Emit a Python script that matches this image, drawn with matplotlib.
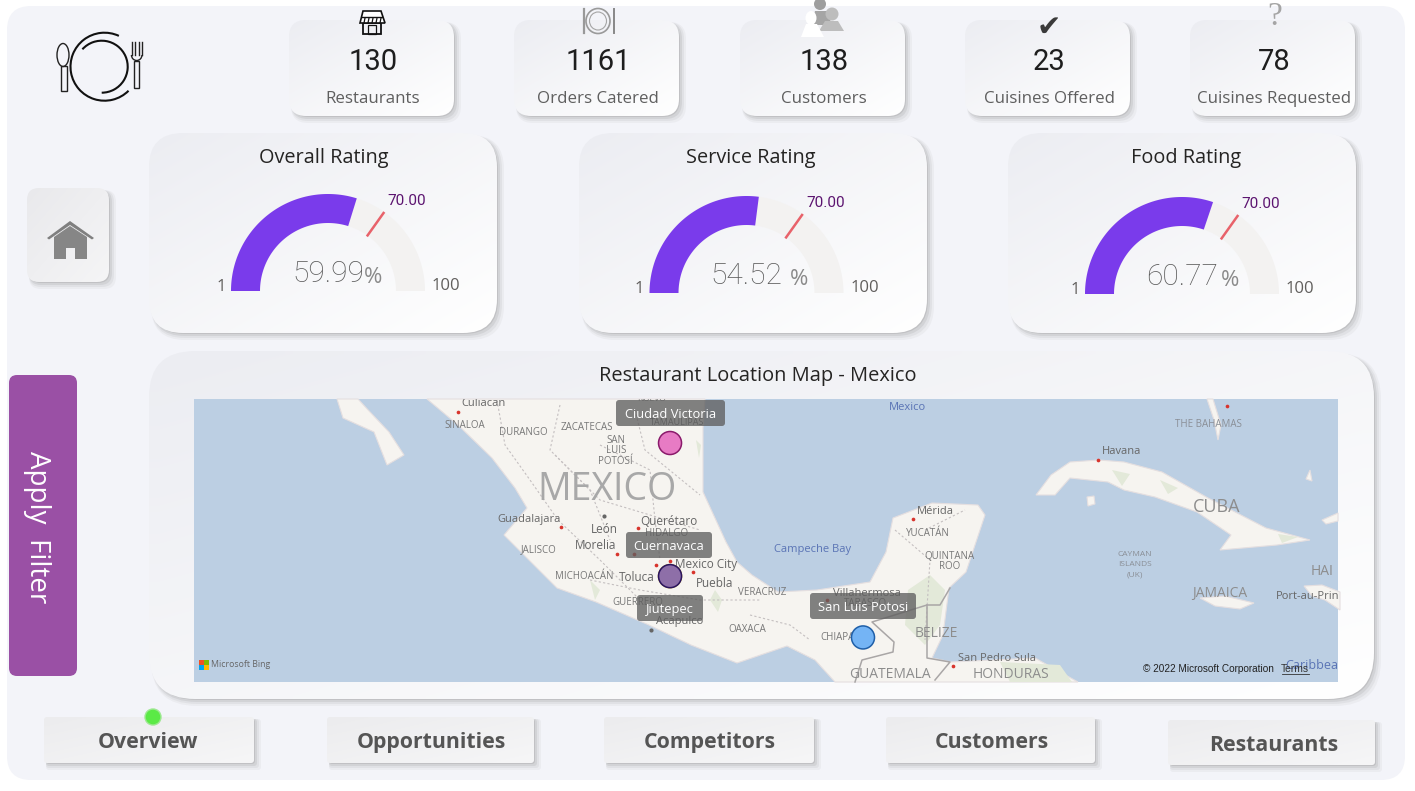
import numpy as np
import matplotlib
matplotlib.use("Agg")
import matplotlib.pyplot as plt
from matplotlib.patches import FancyBboxPatch, Polygon, Circle, Arc, Rectangle, Ellipse

# values
kpi_values = ["130", "1161", "138", "23", "78"]
kpi_labels = ["Restaurants", "Orders Catered", "Customers", "Cuisines Offered", "Cuisines Requested"]
gauge_titles = ["Overall Rating", "Service Rating", "Food Rating"]
gauge_values = [59.99, 54.52, 60.77]
gauge_targets = [70.0, 70.0, 70.0]
gauge_min = 1
gauge_max = 100
nav_labels = ["Overview", "Opportunities", "Competitors", "Customers", "Restaurants"]

city_names = ["Ciudad Victoria", "Cuernavaca", "Jiutepec", "San Luis Potosi"]
city_lon = [-99.1, -99.1, -99.1, -91.56]
city_lat = [23.7, 18.77, 18.77, 16.5]
city_colors = ["#E77BC4", "#C9A227", "#8E6FA8", "#74B4F5"]
city_edges = ["#8A1A6B", "#C9A227", "#2A1560", "#1F5FA8"]

FONT = "Open Sans"
NUM_FONT = "Roboto"

fig = plt.figure(figsize=(14.15, 7.91), dpi=100)
fig.patch.set_facecolor("white")
ax = fig.add_axes([0, 0, 1, 1])
ax.set_xlim(0, 1415)
ax.set_ylim(791, 0)
ax.axis("off")

grad = np.linspace(0, 1, 64)
grad = (grad[None, :] + grad[:, None]) / 2


def rbox(x0, y0, x1, y1, r, **kw):
    return FancyBboxPatch((x0 + r, y0 + r), x1 - x0 - 2 * r, y1 - y0 - 2 * r,
                          boxstyle=f"round,pad={r},rounding_size={r}", mutation_aspect=1, **kw)


def card(x0, y0, x1, y1, r, c0="#ECEDF2", c1="#FFFFFF", z=2):
    # soft shadow, then the gradient face
    for i, a in zip([7, 5, 3, 1], [0.05, 0.07, 0.1, 0.14]):
        ax.add_patch(rbox(x0 + 2, y0 + 2, x1 + i, y1 + i, r, fc="#5A5A5A", ec="none", alpha=a, zorder=z))
    rgb0 = np.array(matplotlib.colors.to_rgb(c0))
    rgb1 = np.array(matplotlib.colors.to_rgb(c1))
    img = rgb0[None, None, :] + (rgb1 - rgb0)[None, None, :] * grad[:, :, None]
    im = ax.imshow(img, extent=(x0, x1, y1, y0), aspect="auto", zorder=z + 0.1, interpolation="bilinear")
    face = rbox(x0, y0, x1, y1, r, fc="none", ec="none", zorder=z + 0.1)
    ax.add_patch(face)
    im.set_clip_path(face)


def label(x, y, s, size, color="#333333", family=FONT, z=6, **kw):
    kw.setdefault("ha", "center")
    kw.setdefault("va", "center")
    # centre sits a bit high with these fonts
    return ax.text(x, y + size * 0.13, s, fontsize=size, color=color, family=family, zorder=z, **kw)


# page background
ax.add_patch(rbox(7, 6, 1405, 780, 24, fc="#F3F4F9", ec="none", zorder=1))

# KPI cards
kpi_x0 = [289, 514, 740, 965, 1190]
for x0, val, lab in zip(kpi_x0, kpi_values, kpi_labels):
    card(x0, 20, x0 + 165, 116, 17)
    label(x0 + 84, 59, val, 21, color="#1E1E1E", family=NUM_FONT)
    label(x0 + 84, 97, lab, 12.2, color="#5F5F5F")

# logo: plate, spoon, fork
lw_logo = 1.5
ax.add_patch(Arc((104.5, 66.7), 68, 68, theta1=45, theta2=295, color="#111111", lw=lw_logo, zorder=6))
ax.add_patch(Arc((101.7, 66.7), 52, 52, theta1=222, theta2=450, color="#111111", lw=lw_logo, zorder=6))
ax.add_patch(Ellipse((63, 55), 12, 23, fc="none", ec="#222222", lw=1, zorder=6))
ax.add_patch(Rectangle((61, 66), 5.5, 25, fc="none", ec="#222222", lw=1, zorder=6))
for fx in (131.5, 135, 138.5, 142):
    ax.plot([fx, fx], [42, 55], color="#222222", lw=1, zorder=6)
ax.add_patch(Arc((136.7, 55), 10.5, 11, theta1=0, theta2=180, color="#222222", lw=1, zorder=6))
ax.add_patch(Rectangle((133.5, 61), 5.5, 27, fc="none", ec="#222222", lw=1, zorder=6))

# KPI icons
ax.add_patch(Rectangle((363, 23), 18, 11, fc="none", ec="#111111", lw=1.3, zorder=6))
ax.add_patch(Rectangle((368, 25), 8, 9, fc="none", ec="#111111", lw=0.9, zorder=6))
ax.add_patch(Polygon([[363, 11], [381, 11], [385, 23], [360, 23]], fc="white", ec="#111111", lw=1.2, zorder=6))
ax.plot([362, 382], [17, 17], color="#111111", lw=1, zorder=6)
for sx in (365, 369, 373, 377, 381):
    ax.plot([sx, sx - 1], [18, 23], color="#111111", lw=0.9, zorder=6)
ax.add_patch(Ellipse((598, 21), 24, 25, fc="none", ec="#9A9A9A", lw=1.2, zorder=6))
ax.add_patch(Ellipse((598, 21), 17, 18, fc="none", ec="#A5A5A5", lw=0.8, zorder=6))
ax.plot([584, 584], [9, 33], color="#999999", lw=1.6, zorder=6)
ax.plot([614, 614], [9, 33], color="#888888", lw=1.4, zorder=6)
ax.add_patch(Circle((820, 4), 6, fc="#9E9E9E", ec="none", zorder=6))
ax.add_patch(Polygon([[811, 25], [815, 11], [827, 11], [832, 25]], fc="#A5A5A5", ec="none", zorder=6))
ax.add_patch(Circle((832, 14), 6.5, fc="#BDBDBD", ec="none", zorder=6))
ax.add_patch(Polygon([[819, 31], [825, 21], [838, 21], [844, 31]], fc="#BDBDBD", ec="none", zorder=6))
ax.add_patch(Ellipse((811, 18), 11, 14, fc="white", ec="none", zorder=6))
ax.add_patch(Polygon([[801, 37], [806, 24], [817, 24], [824, 37]], fc="white", ec="none", zorder=6))
label(1049, 25, "\u2714", 21, color="#3A3A3A", family="DejaVu Sans")
label(1275, 14, "?", 24, color="#A5A5A5", family="Liberation Serif")

# gauges
gauge_card_x0 = [149, 579, 1008]
gauge_cx = [328, 746.5, 1182]
gauge_cy = [291, 293, 294]
title_x = [324, 751, 1186]
pct_dx = [45, 52.5, 48]
R_out, R_in = 97, 68


def frac(v):
    return (v - gauge_min) / (gauge_max - gauge_min)


def ring(cx, cy, f0, f1, color):
    t = np.pi * (1 - np.linspace(f0, f1, 100))
    outer = np.c_[cx + R_out * np.cos(t), cy - R_out * np.sin(t)]
    inner = np.c_[cx + R_in * np.cos(t), cy - R_in * np.sin(t)][::-1]
    ax.add_patch(Polygon(np.r_[outer, inner], fc=color, ec="none", zorder=5))


for i in range(3):
    x0, cx, cy = gauge_card_x0[i], gauge_cx[i], gauge_cy[i]
    card(x0, 133, x0 + 348, 333, 34)
    label(title_x[i], 156, gauge_titles[i], 14.3, color="#252423")
    ring(cx, cy, 0, 1, "#F3F2F1")
    ring(cx, cy, 0, frac(gauge_values[i]), "#7A3BEB")
    t = np.pi * (1 - frac(gauge_targets[i]))
    ax.plot([cx + (R_in - 1) * np.cos(t), cx + R_out * np.cos(t)],
            [cy - (R_in - 1) * np.sin(t), cy - R_out * np.sin(t)],
            color="#E8626A", lw=1.8, zorder=6, solid_capstyle="butt")
    label(cx + 79, cy - 91, f"{gauge_targets[i]:.2f}", 11, color="#5C1470", family=NUM_FONT)
    label(cx - 107, cy - 6, str(gauge_min), 12, color="#605E5C")
    label(cx + 118, cy - 7, str(gauge_max), 12, color="#605E5C")
    label(cx, cy - 20, f"{gauge_values[i]:.2f}", 21.5, color="#5A5A5A", family=NUM_FONT, fontweight="light")
    label(cx + pct_dx[i], cy - 16, "%", 16, color="#8A8A8A")

# home button
card(27, 188, 109, 282, 12, c0="#E9E9EC", c1="#F5F5F6")
ax.add_patch(Polygon([[47, 238], [70, 221], [94, 238], [92, 239.5], [70, 225], [49, 239.5]], fc="#7F7F7F", ec="none", zorder=6))
ax.add_patch(Polygon([[54, 237], [70, 226], [87, 237], [87, 259], [75, 259], [75, 248], [66, 248], [66, 259], [54, 259]], fc="#868686", ec="none", zorder=6))

# filter pane
ax.add_patch(rbox(9, 375, 77, 676, 8, fc="#9A50A5", ec="none", zorder=3))
label(37, 525, "Apply  Filter", 20, color="white", rotation=270)

# map card
card(149, 351, 1374, 699, 46)
label(758, 374, "Restaurant Location Map - Mexico", 14.4, color="#252423")

# basemap, traced by eye in page pixels
mx0, mx1, my0, my1 = 194, 1338, 399, 682
ax.add_patch(Rectangle((mx0, my0), mx1 - mx0, my1 - my0, fc="#BCCFE3", ec="none", zorder=3))
land = "#F6F4F0"
mexico = [[427, 399], [458, 425], [492, 458], [515, 488], [527, 508], [504, 535], [527, 558], [557, 588],
          [596, 602], [649, 625], [691, 645], [737, 663], [787, 646], [815, 660], [835, 682], [1078, 682],
          [1035, 658], [951, 662], [932, 658], [943, 635], [949, 588], [966, 572], [985, 515], [978, 505],
          [932, 503], [893, 518], [886, 552], [870, 582], [817, 590], [778, 592], [752, 575], [737, 562],
          [726, 542], [703, 492], [703, 428], [705, 399]]
baja = [[337, 399], [343, 418], [374, 432], [387, 465], [404, 455], [389, 432], [370, 412], [358, 399]]
cuba = [[1036, 495], [1051, 475], [1070, 462], [1099, 460], [1124, 462], [1162, 472], [1208, 498], [1266, 528],
        [1310, 540], [1277, 545], [1220, 550], [1231, 535], [1197, 512], [1155, 497], [1124, 490], [1108, 482],
        [1070, 478], [1055, 495]]
jamaica = [[1200, 598], [1225, 596], [1254, 603], [1240, 609], [1215, 606]]
hispaniola = [[1304, 586], [1322, 585], [1340, 592], [1340, 610], [1325, 600], [1312, 596]]
small_land = [[[1087, 497], [1094, 496], [1095, 504], [1088, 506]],
              [[1207, 399], [1213, 399], [1221, 425], [1218, 440], [1214, 420]],
              [[1322, 520], [1338, 513], [1338, 521], [1326, 524]],
              [[1310, 470], [1306, 479], [1312, 481]]]
for shape in [mexico, baja, cuba, jamaica, hispaniola] + small_land:
    ax.add_patch(Polygon(shape, fc=land, ec="#E5DFE0", lw=0.8, zorder=3.1))

# green patches on land
greens = [[[908, 590], [930, 575], [945, 590], [940, 625], [925, 645], [905, 625]],
          [[1000, 662], [1060, 665], [1072, 682], [1010, 682]],
          [[1112, 470], [1130, 474], [1122, 486]],
          [[1278, 534], [1298, 537], [1282, 543]],
          [[1160, 480], [1178, 488], [1168, 494]],
          [[696, 440], [701, 445], [699, 458]],
          [[715, 590], [722, 600], [718, 612], [710, 600]],
          [[590, 580], [600, 590], [595, 600]]]
for shape in greens:
    ax.add_patch(Polygon(shape, fc="#E3E9D9", ec="none", zorder=3.2))

# state borders
borders = [[[497, 400], [505, 445], [530, 480], [558, 520], [600, 560], [640, 600]],
           [[560, 405], [550, 450], [590, 490], [610, 540]],
           [[600, 445], [650, 470], [655, 520], [660, 560]],
           [[635, 410], [645, 450], [700, 495]],
           [[555, 455], [600, 500], [700, 530]],
           [[590, 580], [640, 590], [700, 600], [760, 600]],
           [[750, 615], [790, 625], [810, 640]],
           [[895, 530], [930, 560], [925, 640]],
           [[925, 530], [965, 510]]]
for b in borders:
    xy = np.array(b)
    ax.plot(xy[:, 0], xy[:, 1], color="#C4BFC0", lw=0.8, ls=(0, (2, 2)), zorder=3.3)
guate = np.array([[855, 682], [862, 660], [893, 652], [894, 642], [872, 622], [927, 605], [927, 658], [950, 662], [935, 680]])
ax.plot(guate[:, 0], guate[:, 1], color="#A9A6A6", lw=1.1, zorder=3.3)
ax.plot([927, 940, 950], [605, 605, 588], color="#A9A6A6", lw=1.1, zorder=3.3)

# basemap labels: text, x, y, size, colour
map_labels = [("Culiacan", 483, 402, 8, "#666666"), ("SINALOA", 465, 425, 7, "#777777"),
              ("DURANGO", 523, 432, 7, "#777777"), ("ZACATECAS", 587, 427, 7, "#777777"),
              ("NUEVO", 652, 399, 6, "#777777"),
              ("SAN", 616, 440, 7, "#777777"), ("LUIS", 616, 450, 7, "#777777"), ("POTOS\u00cd", 615, 461, 7, "#777777"),
              ("TAMAULIPAS", 677, 422, 6.5, "#666666"),
              ("MEXICO", 607, 486, 27, "#A8A8A8"), ("Guadalajara", 529, 518, 8, "#666666"),
              ("Le\u00f3n", 604, 528, 8.5, "#666666"), ("Quer\u00e9taro", 669, 520, 8.5, "#666666"),
              ("HIDALGO", 667, 533, 7, "#777777"), ("Morelia", 596, 544, 8.5, "#666666"),
              ("JALISCO", 539, 549, 7, "#777777"), ("Mexico City", 706, 563, 8.5, "#666666"),
              ("MICHOAC\u00c1N", 584, 576, 7, "#777777"), ("Toluca", 637, 576, 8.5, "#666666"),
              ("Puebla", 715, 582, 8.5, "#666666"), ("VERACRUZ", 762, 592, 7, "#777777"),
              ("GUERRERO", 638, 602, 7, "#777777"), ("Acapulco", 680, 620, 8, "#666666"),
              ("OAXACA", 747, 629, 7, "#777777"),
              ("Mexico", 907, 406, 8, "#5A74B5"), ("Campeche Bay", 813, 548, 8, "#5A74B5"),
              ("THE BAHAMAS", 1208, 424, 7, "#8A8F96"), ("Havana", 1122, 450, 8, "#666666"),
              ("M\u00e9rida", 935, 510, 8, "#666666"), ("YUCAT\u00c1N", 928, 533, 7, "#777777"),
              ("QUINTANA", 949, 556, 7, "#777777"), ("ROO", 950, 566, 7, "#777777"),
              ("CUBA", 1217, 505, 13, "#8D8D8D"), ("CAYMAN", 1135, 554, 6, "#8A8F96"),
              ("ISLANDS", 1135, 564, 6, "#8A8F96"), ("(UK)", 1135, 574, 6, "#8A8F96"),
              ("HAI", 1322, 570, 10, "#8D8D8D"), ("JAMAICA", 1220, 592, 10, "#8D8D8D"),
              ("Port-au-Prince", 1313, 595, 8, "#666666"), ("Villahermosa", 867, 592, 8, "#666666"),
              ("TABASCO", 865, 603, 7, "#777777"), ("CHIAPAS", 840, 637, 7, "#777777"),
              ("BELIZE", 936, 632, 10, "#8D8D8D"), ("San Pedro Sula", 997, 657, 8, "#666666"),
              ("GUATEMALA", 890, 673, 10, "#8D8D8D"), ("HONDURAS", 1011, 673, 10, "#8D8D8D"),
              ("Caribbean", 1316, 664, 9, "#5A74B5")]
map_clip = Rectangle((mx0, my0), mx1 - mx0, my1 - my0, transform=ax.transData)
for txt, x, y, size, color in map_labels:
    t = label(x, y, txt, size, color=color, z=4, clip_on=True)
    t.set_clip_path(map_clip)

red_dots_x = [458, 561, 638, 634, 617, 656, 670, 693, 913, 1098, 1227, 827, 953]
red_dots_y = [412, 527, 528, 554, 554, 565, 561, 572, 519, 460, 406, 600, 666]
ax.scatter(red_dots_x, red_dots_y, s=7, color="#D8342C", zorder=4, linewidths=0)
ax.scatter([604, 651], [516, 630], s=9, color="#666666", zorder=4, linewidths=0)

# bing logo and attribution
for cx_, cy_, c in zip([201, 206, 201, 206], [662, 662, 667, 667], ["#F25022", "#7FBA00", "#00A4EF", "#FFB900"]):
    ax.add_patch(Rectangle((cx_ - 2.5, cy_ - 2.5), 5, 5, fc=c, ec="none", zorder=4))
label(241, 664, "Microsoft Bing", 6.3, color="#666666", z=4)
label(1208, 668, "\u00a9 2022 Microsoft Corporation", 7.2, color="#222222", family="Liberation Sans", z=7)
label(1295, 668, "Terms", 7.4, color="#333333", family="Liberation Sans", z=7)
ax.plot([1282, 1309], [673.5, 673.5], color="#333333", lw=0.6, zorder=7)

# city markers go through a lon/lat axes laid over the map
ax_geo = fig.add_axes([mx0 / 1415, 1 - my1 / 791, (mx1 - mx0) / 1415, (my1 - my0) / 791], facecolor="none")
ax_geo.set_xlim(-117.7, -73.0)
ax_geo.set_ylim(14.85, 25.33)
ax_geo.axis("off")
ax_geo.scatter(city_lon, city_lat, s=275, c=city_colors, edgecolors=city_edges, linewidths=1.1, zorder=5)

# tooltips, drawn on top of the markers' axes
ax_top = fig.add_axes([0, 0, 1, 1], facecolor="none")
ax_top.set_xlim(0, 1415)
ax_top.set_ylim(791, 0)
ax_top.axis("off")
tip_boxes = [(616, 400, 725, 426), (626, 532, 712, 558), (637, 595, 703, 621), (810, 593, 916, 619)]
for name, (x0, y0, x1, y1) in zip(city_names, tip_boxes):
    ax_top.add_patch(rbox(x0, y0, x1, y1, 3, fc="#5F5F5F", ec="none", alpha=0.78, zorder=6))
    ax_top.text((x0 + x1) / 2, (y0 + y1) / 2 + 1.2, name, fontsize=9.3, color="white", family=FONT,
                ha="center", va="center", zorder=7)

# navigation buttons
nav_boxes = [(44, 717, 254, 763), (327, 717, 534, 763), (604, 717, 814, 763), (886, 717, 1095, 763), (1168, 720, 1375, 765)]
nav_dx = [-1, 1, 1, 1, 2]
for name, dx, (x0, y0, x1, y1) in zip(nav_labels, nav_dx, nav_boxes):
    card(x0, y0, x1, y1, 3, c0="#ECECEE", c1="#F6F6F7")
    label((x0 + x1) / 2 + dx, (y0 + y1) / 2 + 1, name, 15.3, color="#555555", fontweight="bold")

# active indicator
ax.add_patch(Circle((153, 717), 8, fc="#5BEA46", ec="#9DE891", lw=1, zorder=7))

fig.savefig("out.png", dpi=100)
